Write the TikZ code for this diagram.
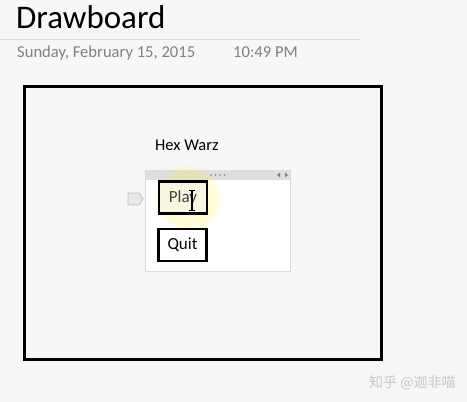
\documentclass[tikz,border=0pt]{standalone}
\usepackage{fontspec}
\setmainfont{Carlito}
\newfontfamily\cjk{Noto Sans CJK SC}
\usetikzlibrary{calc,positioning,shapes.geometric,fadings}
\definecolor{pagebg}{HTML}{F7F7F7}
\definecolor{datetext}{HTML}{808080}
\definecolor{panelline}{HTML}{DADADA}
\definecolor{barfill}{HTML}{DEDEDE}
\definecolor{playfill}{HTML}{F8F6DE}
\begin{document}
\begin{tikzpicture}[x=1pt,y=-1pt,
  button/.style={draw=black,line width=2.6pt,minimum width=48pt,minimum height=32pt,inner sep=0pt,font=\fontsize{17}{19}\selectfont},
  lbl/.style={inner sep=0pt,anchor=base west}]
\fill[pagebg] (0,0) rectangle (467,402);
\useasboundingbox (0,0) rectangle (467,402);
% header
\node[lbl,font=\fontsize{33}{36}\selectfont] (title) at (16,28) {Drawboard};
\draw[panelline,line width=1pt] (0,39) -- (360,39);
\node[lbl,text=datetext,font=\fontsize{16.6}{18}\selectfont] (date) at (17,57) {Sunday, February 15, 2015};
\node[lbl,text=datetext,font=\fontsize{16.6}{18}\selectfont] (time) at (233,57) {10:49 PM};
% board
\draw[line width=3pt] (24.5,86) rectangle (381.5,359.5);
\node[lbl,font=\fontsize{16.5}{18}\selectfont] (heading) at (155,150) {Hex Warz};
% panel
\draw[panelline,fill=white,line width=0.8pt] (145.5,170) rectangle (290.5,271);
\fill[barfill] (145.5,170) rectangle (290.5,180);
\foreach \i in {0,1,2,3}
  \fill[gray] ($(211,175)+(4.5*\i,0)$) circle (0.9);
\fill[gray] (280,172.5) -- (280,177.5) -- (277,175) -- cycle;
\fill[gray] (285,172.5) -- (285,177.5) -- (288,175) -- cycle;
\draw[black!25,fill=barfill!70,line width=0.8pt] (128,193) -- (139,193) -- (143,199) -- (139,205) -- (128,205) -- cycle;
% glow
\fill[yellow!80!white,opacity=0.2,path fading=circle with fuzzy edge 20 percent] (188,198) circle (34);
% buttons
\node[button,fill=playfill,text=black!75] (play) at (183,197.5) {Play};
\node[button,fill=white] (quit) at (182.5,245) {Quit};
% cursor
\draw[line width=1.2pt] (192,191) -- (192,210);
\draw[line width=0.9pt] (189,190.5) -- (195,190.5) (189,210.5) -- (195,210.5);
% watermark
\node[lbl,text=black!22,font=\cjk\fontsize{14}{16}\selectfont] (mark) at (369,387) {知乎 @迦非喵};
\end{tikzpicture}
\end{document}
